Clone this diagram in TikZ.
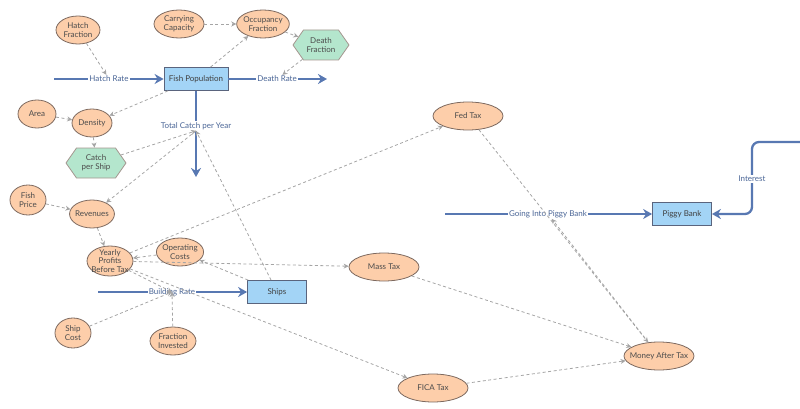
\documentclass[tikz,border=0pt]{standalone}
\usepackage{fontspec}
\setmainfont{Lato}
\definecolor{aux}{RGB}{253,206,170}
\definecolor{auxline}{RGB}{125,105,95}
\definecolor{hexfill}{RGB}{180,230,205}
\definecolor{stockfill}{RGB}{163,212,246}
\definecolor{stockline}{RGB}{90,100,125}
\definecolor{flow}{RGB}{88,120,178}
\definecolor{link}{RGB}{165,165,165}
\usetikzlibrary{
	arrows.meta,
	shapes.geometric,
	shapes.symbols
}
\tikzset{
  % connectors
	cstflow/.style   ={-{Stealth[length=9pt,width=10pt]}, line width=2.3pt, flow}, % stock flow
	cstlink/.style   ={-{Stealth[length=5pt,width=5pt]}, link, line width=.8pt, dash pattern=on 3pt off 2.5pt}, % dependency
  % node
	cstaux/.style    ={ellipse, fill=aux, draw=auxline, line width=.8pt, inner sep=-1pt, text=black!70, align=center, minimum width=44pt, minimum height=28pt},
	csthex/.style    ={signal, signal to=west and east, signal pointer angle=110, fill=hexfill, draw=auxline!70, line width=.8pt, inner sep=1pt, text=black!70, align=center, minimum width=56pt, minimum height=30pt},
	cststock/.style  ={rectangle, fill=stockfill, draw=stockline, line width=.8pt, text=black!75, minimum width=59pt, minimum height=23pt},
	cstrate/.style   ={fill=white, inner sep=1pt, text=flow!85!black}
}

\begin{document}
\begin{tikzpicture}[x=1pt,y=-1pt,font=\fontsize{8}{8.8}\selectfont]
	\useasboundingbox (0,0) rectangle (800,409);
	% stocks
	\node[cststock,minimum width=64pt] (pop) at (196,79) {Fish Population};
	\node[cststock] (ships) at (277,292) {Ships};
	\node[cststock] (piggy) at (682,214) {Piggy Bank};
	% rates
	\node[cstrate] (hatchR) at (109,79) {Hatch Rate};
	\node[cstrate] (deathR) at (277,79) {Death Rate};
	\node[cstrate] (catchR) at (196,126) {Total Catch per Year};
	\node[cstrate] (buildR) at (172,292) {Building Rate};
	\node[cstrate] (bankR) at (548,214) {Going Into Piggy Bank};
	\node[cstrate] (intR) at (752,179) {Interest};
	\coordinate (hatchIn) at (54,79);
	\coordinate (deathOut) at (327,79);
	\coordinate (catchOut) at (196,177);
	\coordinate (buildIn) at (98,292);
	\coordinate (bankIn) at (445,214);
	\coordinate (intIn) at (802,142);
	\draw[cstflow] (hatchIn) -- (hatchR) -- (pop);
	\draw[cstflow] (pop) -- (deathR) -- (deathOut);
	\draw[cstflow] (pop) -- (catchR) -- (catchOut);
	\draw[cstflow] (buildIn) -- (buildR) -- (ships);
	\draw[cstflow] (bankIn) -- (bankR) -- (piggy);
	\draw[cstflow,rounded corners=7pt] (intIn) -- (752,142) -- (intR) -- (752,214) -- (piggy);
	% auxiliaries
	\node[cstaux] (hatchF) at (78,30) {Hatch\\Fraction};
	\node[cstaux,minimum width=50pt] (carry) at (179,24) {Carrying\\Capacity};
	\node[cstaux,minimum width=52pt] (occup) at (263,24) {Occupancy\\Fraction};
	\node[csthex] (deathF) at (321,45) {Death\\Fraction};
	\node[cstaux,minimum width=38pt] (area) at (37,114) {Area};
	\node[cstaux,minimum width=40pt] (density) at (92,123) {Density};
	\node[csthex,minimum width=60pt] (catchS) at (96,163) {Catch\\per Ship};
	\node[cstaux,minimum width=36pt,minimum height=30pt] (price) at (28,200) {Fish\\Price};
	\node[cstaux,minimum width=40pt] (revenue) at (92,214) {Revenues};
	\node[cstaux,inner sep=-3pt,minimum width=46pt,minimum height=30pt] (profit) at (110,261) {Yearly\\Profits\\Before Tax};
	\node[cstaux,minimum width=46pt] (opcost) at (180,252) {Operating\\Costs};
	\node[cstaux,minimum width=36pt,minimum height=30pt] (shipC) at (73,333) {Ship\\Cost};
	\node[cstaux,minimum width=46pt] (fracI) at (173,341) {Fraction\\Invested};
	\node[cstaux,minimum width=70pt] (fedT) at (468,116) {Fed Tax};
	\node[cstaux,minimum width=70pt] (massT) at (384,267) {Mass Tax};
	\node[cstaux,minimum width=70pt] (ficaT) at (433,388) {FICA Tax};
	\node[cstaux,inner sep=-7pt,minimum width=70pt] (moneyT) at (659,356) {Money After Tax};
	% links
	\draw[cstlink] (hatchF) -- (hatchR);
	\draw[cstlink] (carry) -- (occup);
	\draw[cstlink] (pop) -- (occup);
	\draw[cstlink] (occup) -- (deathF);
	\draw[cstlink] (deathF) -- (deathR);
	\draw[cstlink] (pop) -- (density);
	\draw[cstlink] (area) -- (density);
	\draw[cstlink] (density) -- (catchS);
	\draw[cstlink] (catchS) -- (catchR.south);
	\draw[cstlink] (ships) -- (catchR.south);
	\draw[cstlink] (catchR.south) -- (revenue);
	\draw[cstlink] (price) -- (revenue);
	\draw[cstlink] (revenue) -- (profit);
	\draw[cstlink] (opcost) -- (profit);
	\draw[cstlink] (ships) -- (opcost);
	\draw[cstlink] (profit) -- (fedT);
	\draw[cstlink] (profit) -- (massT);
	\draw[cstlink] (profit) -- (ficaT);
	\draw[cstlink] (profit) -- (buildR.center);
	\draw[cstlink] (shipC) -- (buildR.center);
	\draw[cstlink] (fracI) -- (buildR.center);
	\draw[cstlink] (fedT) -- (moneyT);
	\draw[cstlink] (massT) -- (moneyT);
	\draw[cstlink] (ficaT) -- (moneyT);
	\draw[cstlink] (moneyT) -- (bankR);
\end{tikzpicture}
\end{document}
